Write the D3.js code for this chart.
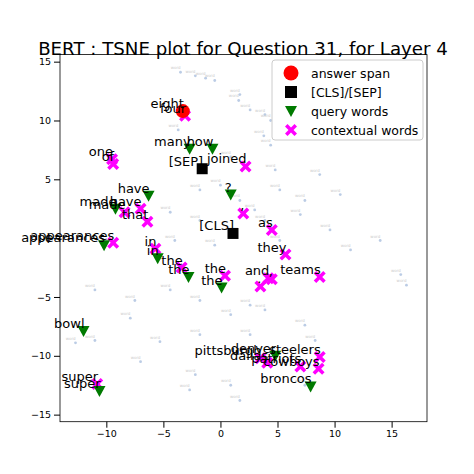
<!DOCTYPE html><html><head><script src="https://d3js.org/d3.v7.min.js"></script>
<style>body{margin:0;background:#fff}text{font-family:"DejaVu Sans",sans-serif}</style></head><body>
<script>
const answerX=[-3.3], answerY=[10.8], answerLabels=["eight"];
const clsX=[-1.6,1.1], clsY=[5.9,0.4], clsLabels=["[SEP]","[CLS]"];
const queryX=[-2.7,-0.7,0.9,-6.3,-9.2,-10.2,-5.5,-2.8,0.1,-12.0,-10.6,4.8,7.9];
const queryY=[7.6,7.6,3.7,3.6,2.5,-0.6,-1.7,-3.3,-4.2,-7.9,-13.0,-10.0,-12.6];
const queryLabels=["many","how","?","have","made","appearances","in","the","the","bowl","super","denver","broncos"];
const ctxX=[-3.1,-9.5,-9.4,2.2,-7.0,-8.4,-6.4,2.0,4.5,-9.4,-5.7,-3.4,0.4,3.5,4.2,4.5,5.7,8.7,8.7,8.6,7.0,3.5,4.1,-10.8];
const ctxY=[10.4,6.7,6.3,6.1,2.5,2.2,1.4,2.1,0.7,-0.4,-0.9,-2.5,-3.2,-4.1,-3.4,-3.5,-1.4,-3.3,-10.1,-11.1,-10.9,-10.2,-10.6,-12.4];
const ctxLabels=["four","one","of","joined","have","made","that",",","as","appearances","in","the","the",".","and",",","they","teams","steelers","cowboys","patriots","pittsburgh","dallas","super"];
const bgX=[-3.5,-2.2,-1.3,-0.5,1.7,1.6,2.6,3.9,4.4,-3.7,0.9,3.8,4.4,4.8,5.2,0,-1.8,1.7,3.0,3.9,-1.8,-4.4,-4.0,-0.5,5.2,7.0,7.4,8.7,10.5,9.6,11.4,14.0,15.8,16.3,-11.0,-7.5,-4.4,-1.8,0.9,2.6,-7.9,-5.3,-1.8,2.6,3.9,7.4,8.3,-12.7,-11.0,-7.0,-2.2,0.9,1.7,-2.7,7.4];
const bgY=[14.1,13.8,13.6,13.4,12.2,11.7,10.9,10.5,10.0,9.2,6.9,8.7,7.9,5.8,4.1,4.5,4.1,3.2,2.4,1.5,1.5,2.2,-0.2,-0.6,-0.2,2.0,3.2,5.4,3.7,0.7,-1.0,-0.2,-3.1,-4.0,-4.4,-5.3,-4.4,-5.3,-6.5,-5.7,-6.8,-8.8,-8.2,-8.2,-6.1,-7.4,-8.7,-8.9,-8.7,-10.5,-11.6,-12.5,-13.8,-12.9,-12.5];
const xTicks=[-10,-5,0,5,10,15], yTicks=[-15,-10,-5,0,5,10,15];
const legendLabels=["answer span","[CLS]/[SEP]","query words","contextual words"];

const W=474,H=474;
const svg=d3.select("body").append("svg").attr("width",W).attr("height",H);
const x=d3.scaleLinear().domain([-14.06,18.1]).range([60,427]);
const y=d3.scaleLinear().domain([-15.6,15.6]).range([421.7,54.6]);
svg.append("text").attr("x",243).attr("y",55).attr("text-anchor","middle").attr("font-size",18.2).text("BERT : TSNE plot for Question 31, for Layer 4");
const gx=svg.append("g").attr("transform","translate(0,421.7)").call(d3.axisBottom(x).tickValues(xTicks).tickSizeOuter(0).tickFormat(d=>d<0?"−"+(-d):d));
const gy=svg.append("g").attr("transform","translate(60,0)").call(d3.axisLeft(y).tickValues(yTicks).tickSizeOuter(0).tickFormat(d=>d<0?"−"+(-d):d));
[gx,gy].forEach(g=>{g.selectAll("text").attr("font-size",9.5).attr("font-family","DejaVu Sans");g.select(".domain").remove();});
svg.append("rect").attr("x",60).attr("y",54.6).attr("width",367).attr("height",367.1).attr("fill","none").attr("stroke","#000").attr("stroke-width",0.8);
const bg=svg.append("g");
bgX.forEach((v,i)=>{bg.append("circle").attr("cx",x(v)).attr("cy",y(bgY[i])).attr("r",1.4).attr("fill","#7799cc").attr("opacity",0.5);
 bg.append("text").attr("x",x(v)).attr("y",y(bgY[i])-3).attr("text-anchor","end").attr("font-size",4).attr("fill","#ccc").text("word");});
const tri="M-6,-5L6,-5L0,6Z";
const xs="M-6,-3.5L-3.5,-6L0,-2.5L3.5,-6L6,-3.5L2.5,0L6,3.5L3.5,6L0,2.5L-3.5,6L-6,3.5L-2.5,0Z";
function pts(X,Y,path,fill){X.forEach((v,i)=>{svg.append("path").attr("d",path).attr("fill",fill).attr("transform",`translate(${x(v)},${y(Y[i])})`);});}
function labs(X,Y,L){X.forEach((v,i)=>{svg.append("text").attr("x",x(v)+1).attr("y",y(Y[i])-3).attr("text-anchor","end").attr("font-size",13).text(L[i]);});}
pts(ctxX,ctxY,xs,"#ff00ff");
pts(queryX,queryY,tri,"#007a00");
pts(clsX,clsY,"M-5.5,-5.5h11v11h-11Z","#000");
answerX.forEach((v,i)=>svg.append("circle").attr("cx",x(v)).attr("cy",y(answerY[i])).attr("r",7).attr("fill","#ff0000"));
labs(ctxX,ctxY,ctxLabels);labs(queryX,queryY,queryLabels);labs(clsX,clsY,clsLabels);labs(answerX,answerY,answerLabels);
const lg=svg.append("g");
lg.append("rect").attr("x",272).attr("y",60).attr("width",151).attr("height",80).attr("rx",3).attr("fill","#fff").attr("fill-opacity",0.85).attr("stroke","#ccc");
legendLabels.forEach((l,i)=>{const cy=73+i*19,cx=291;
 if(i==0)lg.append("circle").attr("cx",cx).attr("cy",cy).attr("r",7.5).attr("fill","#ff0000");
 if(i==1)lg.append("path").attr("d","M-6,-6h12v12h-12Z").attr("transform",`translate(${cx},${cy})`);
 if(i==2)lg.append("path").attr("d",tri).attr("fill","#007a00").attr("transform",`translate(${cx},${cy})`);
 if(i==3)lg.append("path").attr("d",xs).attr("fill","#ff00ff").attr("transform",`translate(${cx},${cy})`);
 lg.append("text").attr("x",311).attr("y",cy+4.5).attr("font-size",12.5).text(l);});
</script></body></html>
